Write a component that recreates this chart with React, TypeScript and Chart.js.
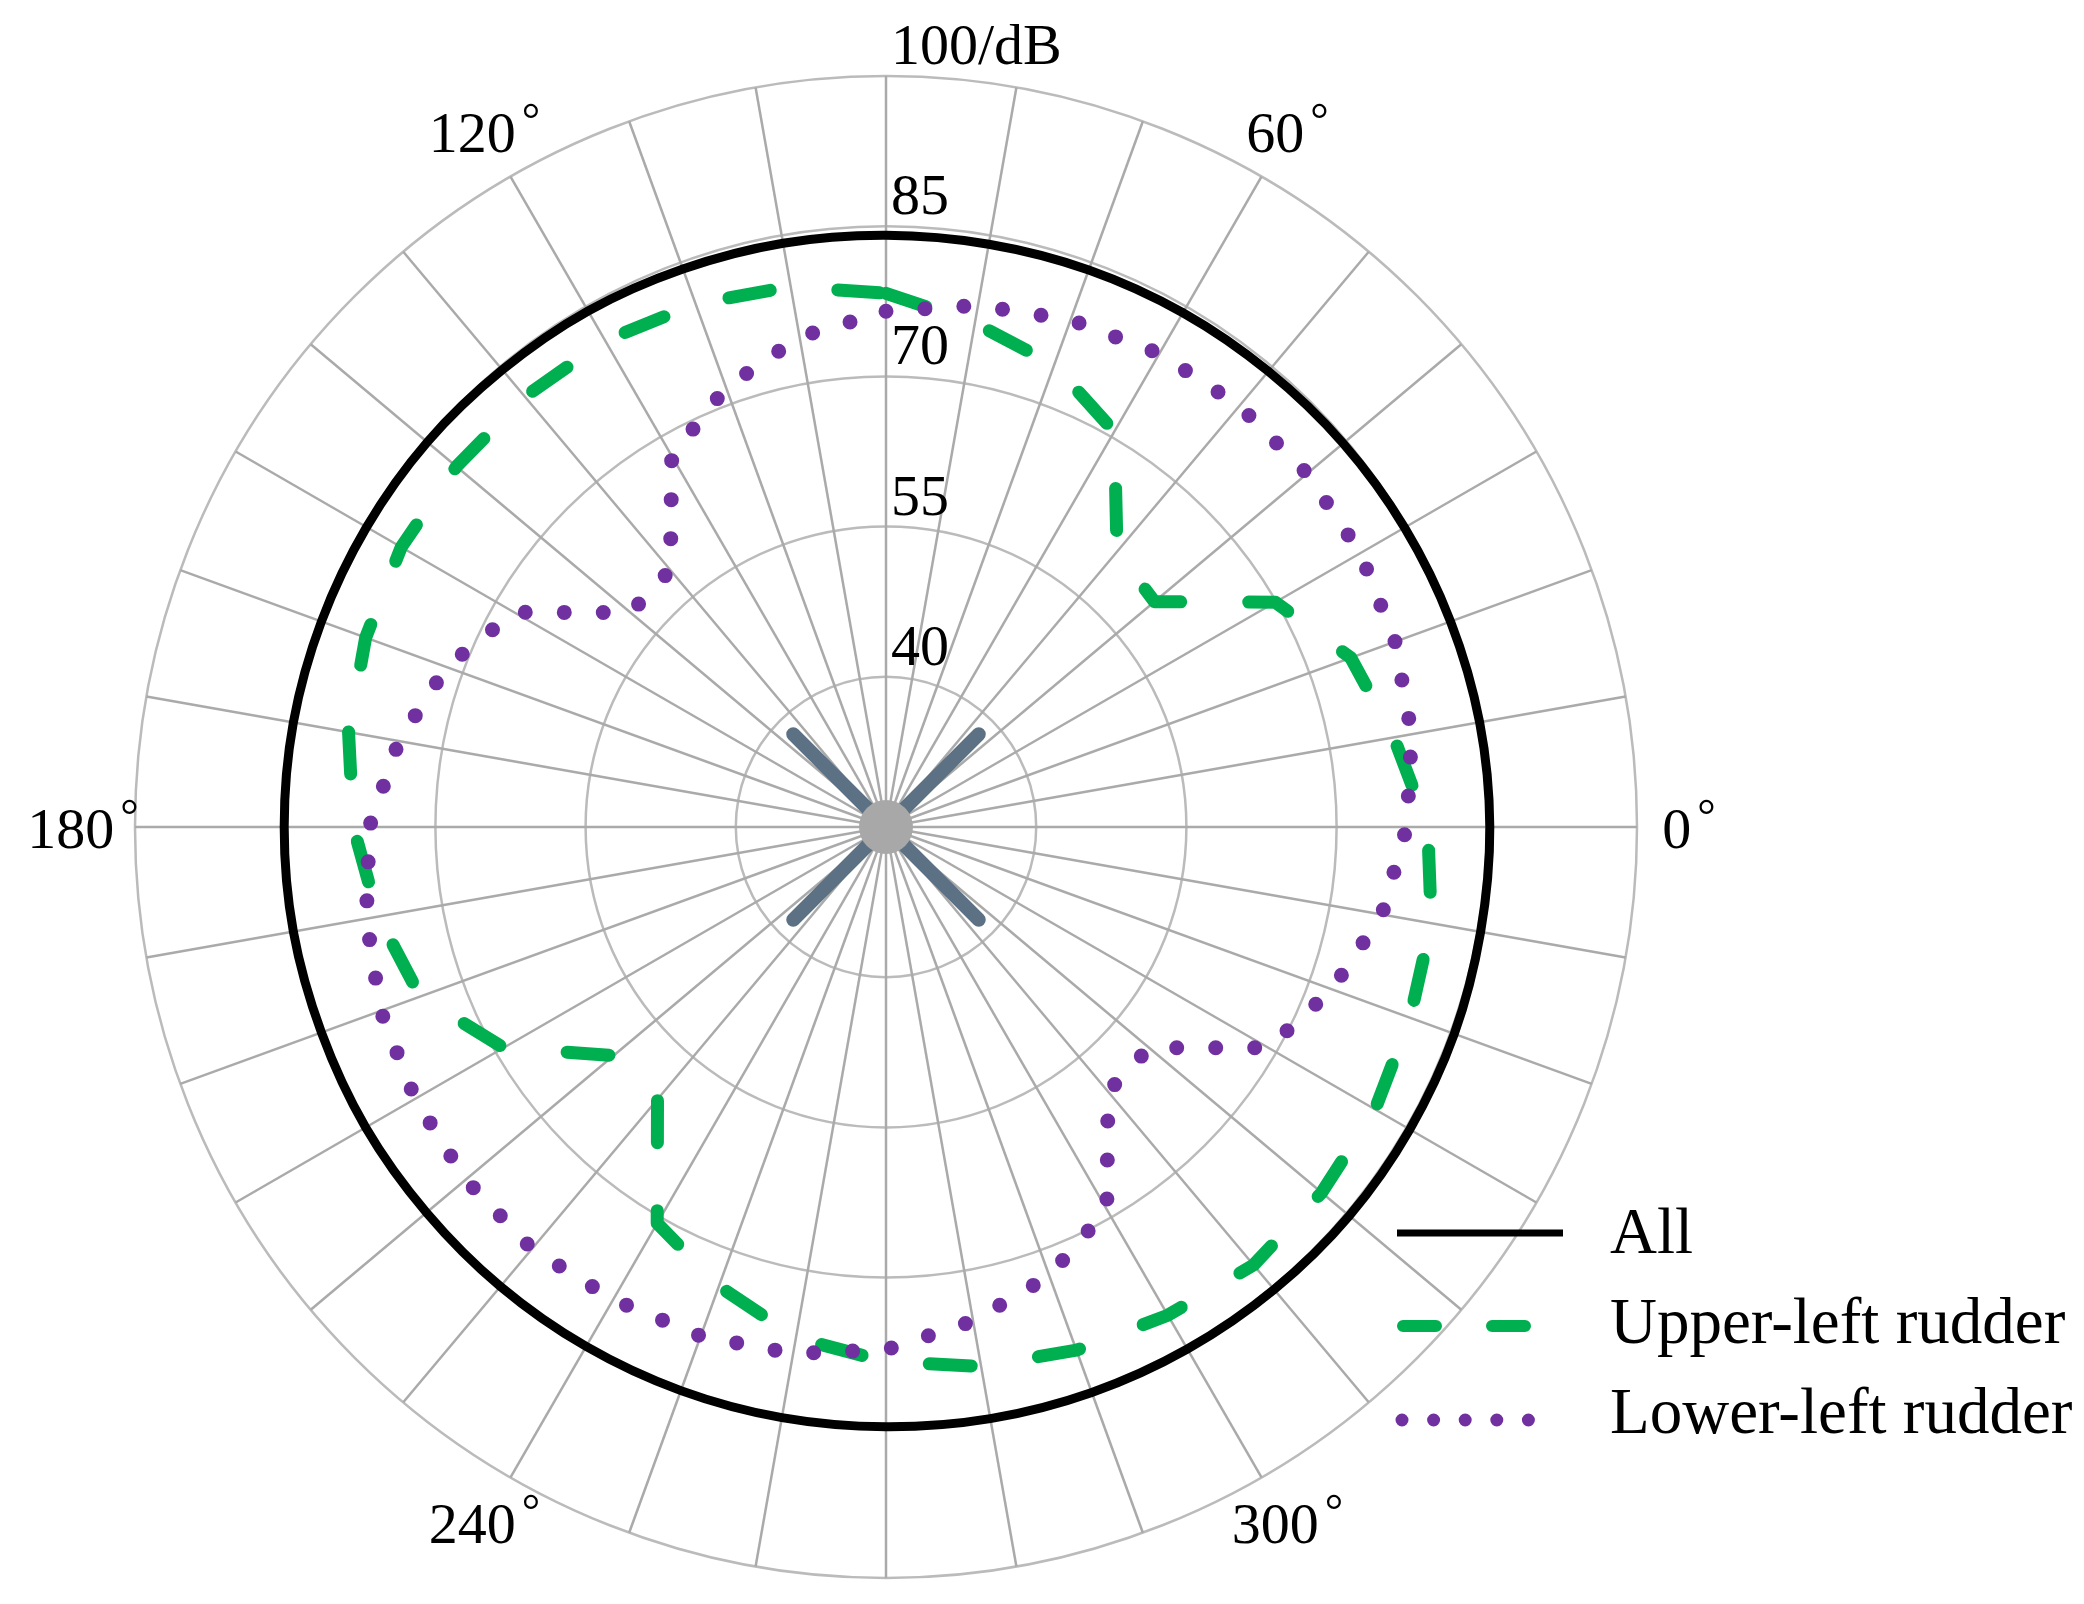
import React, { useEffect, useRef } from 'react';
import { Chart, registerables } from 'chart.js';

Chart.register(...registerables);

// ---------- data (angles counter-clockwise from 0° at the right, step 10°) ----------
const ANGLES_DEG = [0, 10, 20, 30, 40, 50, 60, 70, 80, 90, 100, 110, 120, 130, 140, 150, 160, 170,
  180, 190, 200, 210, 220, 230, 240, 250, 260, 270, 280, 290, 300, 310, 320, 330, 340, 350];

const ALL_VALUES = [85.3, 85.2, 85.0, 84.8, 84.6, 84.4, 84.3, 84.2, 84.1, 84.1, 84.2, 84.3,
  84.5, 84.6, 84.8, 84.9, 85.0, 85.1, 85.1, 85.1, 85.0, 85.0, 84.9, 84.9,
  84.9, 84.9, 84.9, 84.9, 85.0, 85.1, 85.2, 85.3, 85.4, 85.4, 85.4, 85.3];

const UPPER_LEFT_VALUES = [79.1, 76.5, 74.4, 69.9, 60.0, 60.9, 70.6, 74.1, 76.1, 78.3, 79.8, 80.6,
  81.1, 81.1, 81.0, 80.9, 80.3, 79.5, 78.2, 76.5, 74.5, 69.1, 60.5, 60.5,
  70.7, 73.8, 76.8, 78.4, 79.7, 80.6, 81.3, 82.1, 81.8, 81.4, 80.7, 80.3];

const LOWER_LEFT_VALUES = [77.0, 78.3, 79.1, 79.7, 79.9, 79.9, 79.6, 78.9, 77.9, 76.5, 74.7, 71.7,
  67.8, 58.5, 58.3, 67.9, 71.7, 74.4, 76.6, 77.7, 78.7, 79.3, 79.8, 80.0,
  79.5, 79.1, 78.4, 77.2, 75.1, 72.7, 69.1, 59.5, 59.3, 69.1, 72.4, 75.3];

const SERIES_NAMES = ['All', 'Upper-left rudder', 'Lower-left rudder'];

// center marker (gray cross) of the plot
const CROSS_ARM_DEGS = [45, 135, 225, 315];
const CROSS_ARM_VALUE = 38.1;

// radial axis
const R_MIN = 25;
const R_MAX = 100;
const R_STEP = 15;
const RING_TICKS = [40, 55, 70, 85, 100];
const TICK_LABELS = ['40', '55', '70', '85', '100/dB'];
const ANGLE_LABEL_DEGS = [0, 60, 120, 180, 240, 300];

// angular resolution of the category axis (5° so the 45° cross arms fall on spokes)
const ANGLE_STEP = 5;

const FONT = "'Liberation Serif', 'Times New Roman', serif";

// ---------- helpers ----------
const N = 360 / ANGLE_STEP;
// index i goes clockwise from the top (90°)
const SLOT_ANGLES = Array.from({ length: N }, (_, i) => (((90 - ANGLE_STEP * i) % 360) + 360) % 360);
const LABELS = SLOT_ANGLES.map((a) => `${a}°`);
const slotOf = (deg: number) => SLOT_ANGLES.indexOf(((deg % 360) + 360) % 360);

const toSlots = (vals: number[]) =>
  SLOT_ANGLES.map((a) => {
    const k = ANGLES_DEG.indexOf(a);
    return k >= 0 ? vals[k] : null;
  });

const CROSS_DATA = SLOT_ANGLES.map((a) =>
  CROSS_ARM_DEGS.includes(a) ? CROSS_ARM_VALUE : a % 90 === 0 ? R_MIN : null
);

const GREEN = '#00b050';
const PURPLE = '#7030a0';

const textPlugin = {
  id: 'polarText',
  afterDraw(chart: any) {
    const s = chart.scales.r;
    const ctx = chart.ctx as CanvasRenderingContext2D;
    const cx = s.xCenter;
    const cy = s.yCenter;
    const R = s.drawingArea;
    ctx.save();
    ctx.fillStyle = '#000';
    // ring values
    ctx.font = `58px ${FONT}`;
    ctx.textAlign = 'left';
    ctx.textBaseline = 'alphabetic';
    RING_TICKS.forEach((v, k) => {
      const d = s.getDistanceFromCenterForValue(v);
      ctx.fillText(TICK_LABELS[k], cx + 5, cy - d - 12);
    });
    // angle labels
    ANGLE_LABEL_DEGS.forEach((deg) => {
      const p = s.getPointPosition(slotOf(deg), R + 52);
      const num = String(deg);
      ctx.font = `58px ${FONT}`;
      const wd = ctx.measureText(num).width;
      ctx.font = `46px ${FONT}`;
      const wdeg = ctx.measureText('°').width;
      const gap = 6;
      const x0 = p.x - (wd + gap + wdeg) / 2;
      const base = p.y + 20.5;
      ctx.font = `58px ${FONT}`;
      ctx.fillText(num, x0, base);
      ctx.font = `46px ${FONT}`;
      ctx.fillText('°', x0 + wd + gap, base - 17);
    });
    // legend
    const lx0 = cx + 511;
    const lx1 = cx + 677;
    const tx = cx + 724;
    const lineYs = [cy + 406, cy + 499, cy + 593];
    const baseYs = [cy + 426, cy + 516, cy + 606];
    const styles = [
      { color: '#000', width: 7, dash: [] as number[], cap: 'butt' as CanvasLineCap, from: lx0, to: lx1 },
      { color: GREEN, width: 12, dash: [33, 56], cap: 'round' as CanvasLineCap, from: lx0 + 6, to: lx0 + 130 },
      { color: PURPLE, width: 13, dash: [0, 31.6], cap: 'round' as CanvasLineCap, from: lx0 + 5, to: lx0 + 132 },
    ];
    SERIES_NAMES.forEach((name, k) => {
      const st = styles[k];
      ctx.beginPath();
      ctx.strokeStyle = st.color;
      ctx.lineWidth = st.width;
      ctx.lineCap = st.cap;
      ctx.setLineDash(st.dash);
      ctx.moveTo(st.from, lineYs[k]);
      ctx.lineTo(st.to, lineYs[k]);
      ctx.stroke();
      ctx.setLineDash([]);
      ctx.font = `65px ${FONT}`;
      ctx.fillStyle = '#000';
      ctx.fillText(name, tx, baseYs[k]);
    });
    ctx.restore();
  },
};

export default function App() {
  const ref = useRef<HTMLCanvasElement>(null);
  useEffect(() => {
    document.body.style.margin = '0';
    Chart.defaults.font.family = FONT;
    Chart.defaults.color = '#000';
    const canvas = ref.current as HTMLCanvasElement;
    const chart = new Chart(canvas, {
      type: 'radar',
      data: {
        labels: LABELS,
        datasets: [
          {
            label: SERIES_NAMES[2],
            data: toSlots(LOWER_LEFT_VALUES),
            borderColor: PURPLE,
            borderWidth: 15,
            borderDash: [0, 39],
            borderCapStyle: 'round',
            borderJoinStyle: 'round',
            pointRadius: 0,
            fill: false,
            spanGaps: true,
            order: 1,
          } as any,
          {
            label: SERIES_NAMES[1],
            data: toSlots(UPPER_LEFT_VALUES),
            borderColor: GREEN,
            borderWidth: 13,
            borderDash: [42, 68],
            borderCapStyle: 'round',
            borderJoinStyle: 'round',
            pointRadius: 0,
            fill: false,
            spanGaps: true,
            order: 2,
          },
          {
            label: SERIES_NAMES[0],
            data: toSlots(ALL_VALUES),
            borderColor: '#000',
            borderWidth: 9,
            borderJoinStyle: 'round',
            tension: 0.35,
            pointRadius: 0,
            fill: false,
            spanGaps: true,
            order: 3,
          },
          {
            label: 'center',
            data: CROSS_DATA,
            borderColor: '#5d7184',
            borderWidth: 14,
            borderCapStyle: 'round',
            borderJoinStyle: 'round',
            pointRadius: (c: any) => (c.dataIndex === 0 ? 27 : 0),
            pointBackgroundColor: '#a8a8a8',
            pointBorderWidth: 0,
            fill: false,
            spanGaps: true,
            order: 4,
          } as any,
        ],
      },
      options: {
        responsive: false,
        animation: false,
        devicePixelRatio: 1,
        events: [],
        layout: { padding: { left: 135, top: 76, right: 447, bottom: 26 } },
        plugins: {
          legend: { display: false },
          tooltip: { enabled: false },
          title: { display: false },
        },
        scales: {
          r: {
            min: R_MIN,
            max: R_MAX,
            startAngle: 0,
            ticks: { display: false, stepSize: R_STEP },
            pointLabels: { display: false },
            grid: { circular: true, color: '#bbbbbb', lineWidth: 2.5 },
            angleLines: {
              display: true,
              color: '#aaaaaa',
              lineWidth: (c: any) => (c.index % 2 === 0 ? 2.5 : 0),
            },
          },
        },
      } as any,
      plugins: [textPlugin],
    });
    return () => chart.destroy();
  }, []);
  return (
    <div style={{ position: 'absolute', left: 0, top: 0, width: 2084, height: 1604, background: '#fff' }}>
      <canvas ref={ref} width={2084} height={1604} style={{ display: 'block', width: 2084, height: 1604 }} />
    </div>
  );
}
